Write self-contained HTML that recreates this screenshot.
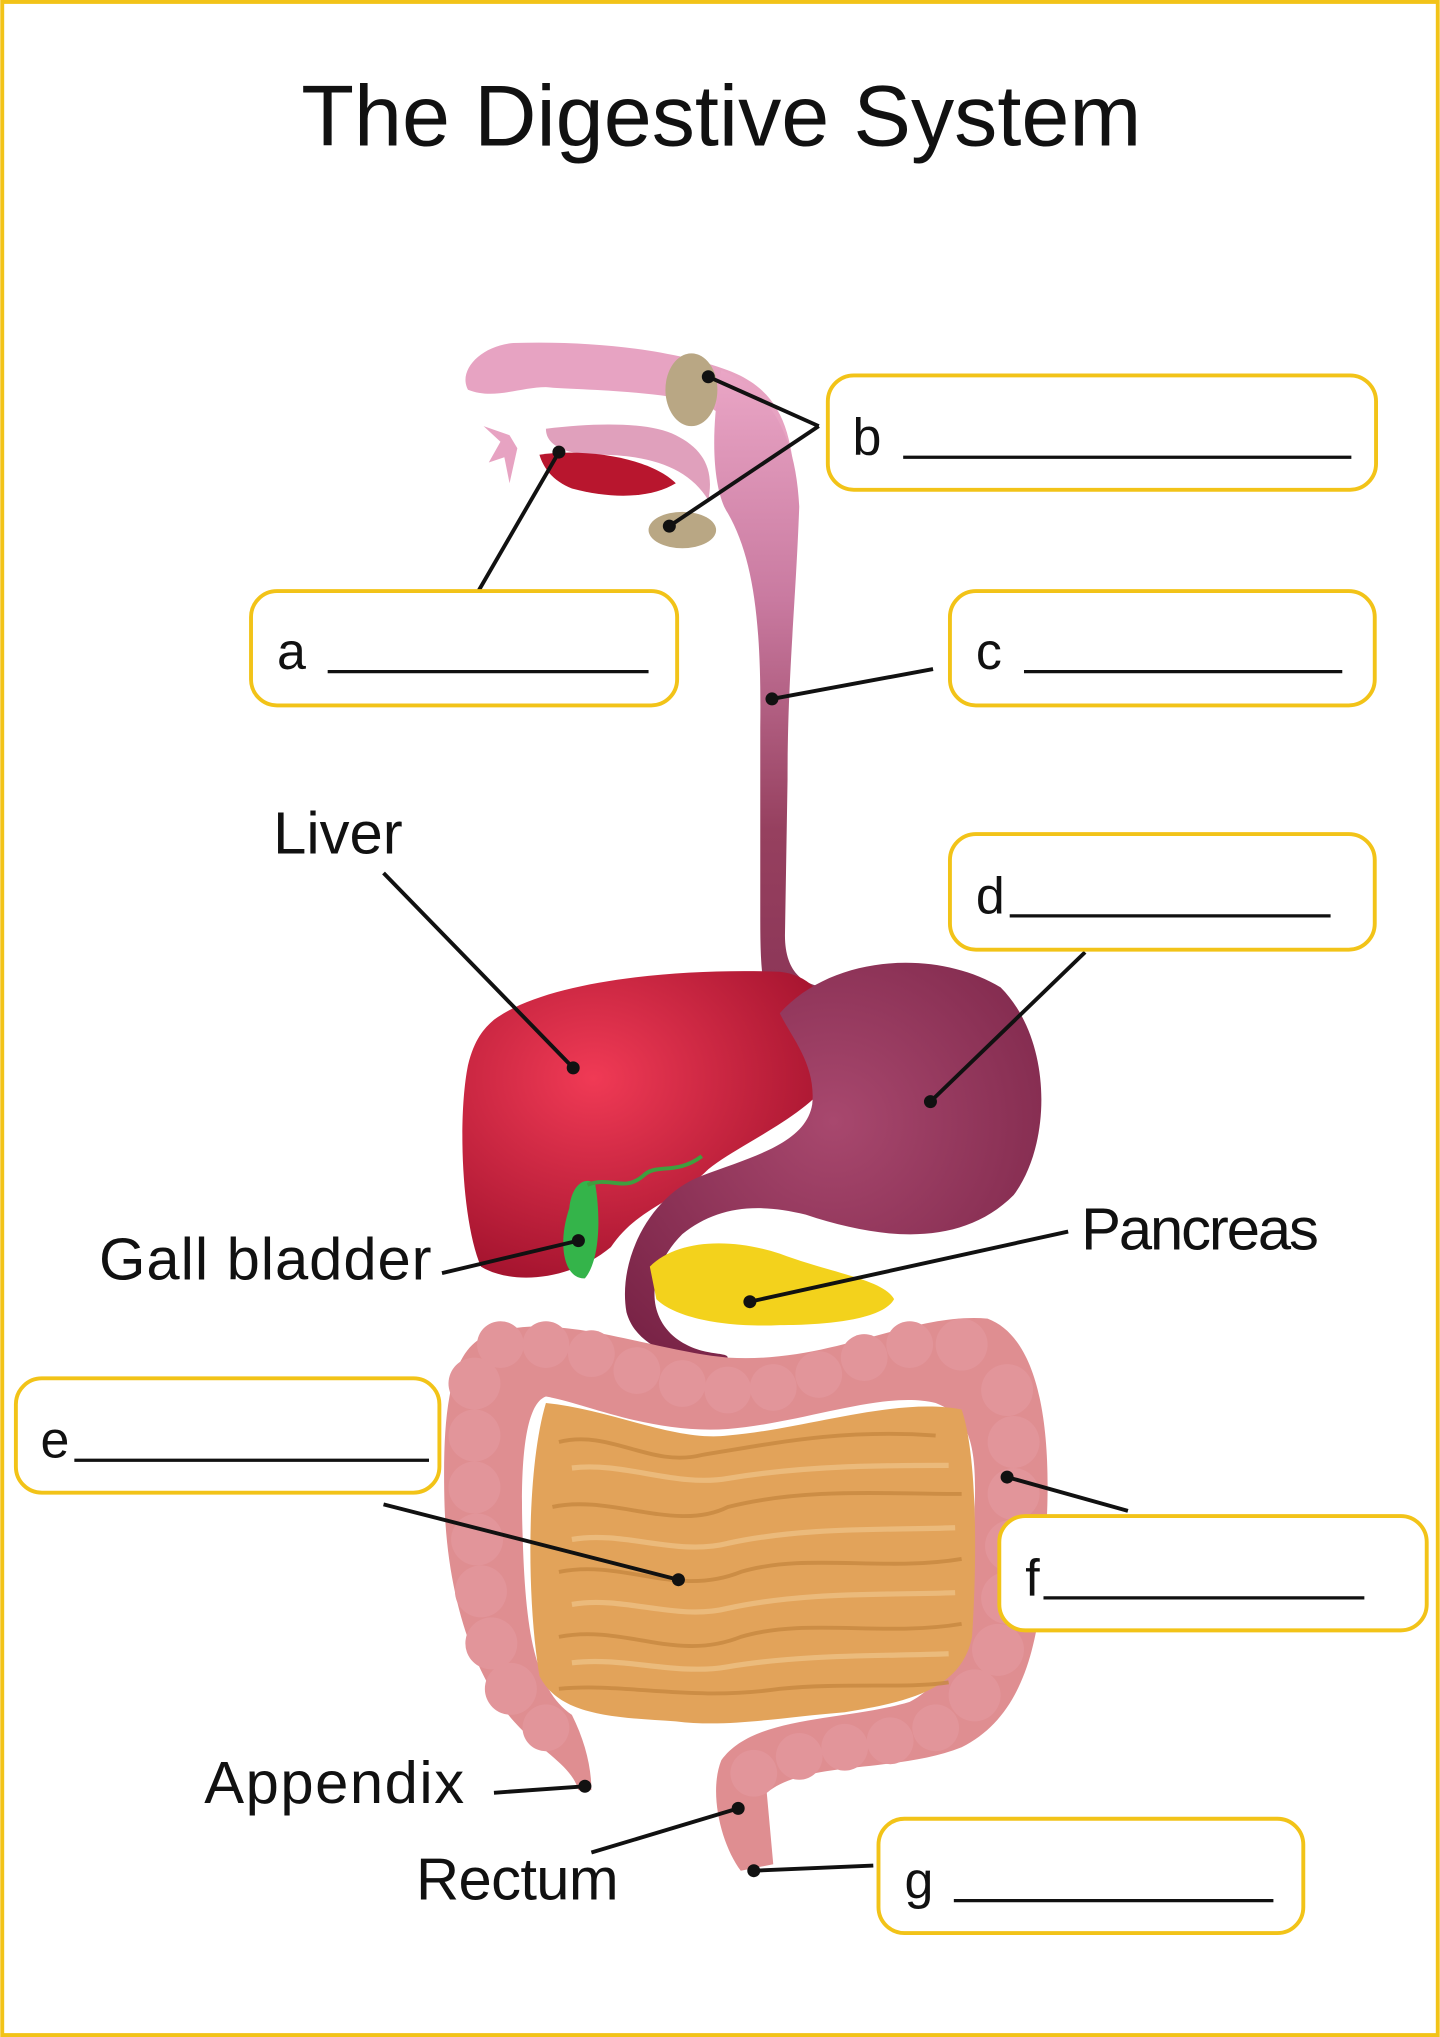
<!DOCTYPE html>
<html><head><meta charset="utf-8"><style>
html,body{margin:0;padding:0;background:#fff}
svg{display:block}
text{font-family:"Liberation Sans",sans-serif;fill:#111}
</style></head><body>
<svg width="1440" height="2037" viewBox="0 0 1108 1568" xmlns="http://www.w3.org/2000/svg">
<defs>
<linearGradient id="eso" x1="0" y1="0" x2="0" y2="1">
<stop offset="0" stop-color="#eaa6c6"/><stop offset="0.35" stop-color="#c97aa0"/><stop offset="0.7" stop-color="#96405f"/><stop offset="1" stop-color="#8a3456"/></linearGradient>
<radialGradient id="liv" cx="0.35" cy="0.35" r="0.7"><stop offset="0" stop-color="#f03a55"/><stop offset="1" stop-color="#a3132e"/></radialGradient>
<radialGradient id="sto" cx="0.5" cy="0.4" r="0.7"><stop offset="0" stop-color="#a8486e"/><stop offset="1" stop-color="#7a2447"/></radialGradient>
</defs>
<rect x="1.5" y="1.5" width="1105" height="1565" fill="#fff" stroke="#f2c318" stroke-width="3"/>
<text x="555" y="112" font-size="66.5" text-anchor="middle">The Digestive System</text>

<path d="M360,300 C352,285 370,266 395,264 C460,262 520,270 560,285 C600,300 610,330 612,380 L608,420 C600,380 580,330 540,310 C500,300 440,300 420,298 C400,298 380,308 360,300Z" fill="#e7a3c2"/>
<path d="M420,330 C460,325 500,325 520,335 C540,345 550,360 545,385 C530,360 500,350 460,350 C440,350 420,345 420,330Z" fill="#e0a0bc"/>
<path d="M372,328 L385,340 L376,356 L388,352 L392,372 L398,345 L392,335Z" fill="#e7a3c2"/>
<path d="M415,350 C450,345 500,352 520,372 C500,384 470,384 440,376 C425,370 418,360 415,350Z" fill="#b8162e"/>
<path d="M555,285 C590,300 612,330 615,390 C612,470 606,520 606,600 L604,720 C604,750 620,760 640,760 L600,790 C585,770 585,740 585,700 L585,560 C586,480 580,430 560,395 C550,380 545,340 555,285Z" fill="url(#eso)"/>
<ellipse cx="532" cy="300" rx="20" ry="28" fill="#b9a784"/>
<ellipse cx="525" cy="408" rx="26" ry="14" fill="#b9a784"/>
<path d="M380,785 C420,755 520,745 600,748 C640,752 650,800 640,830 C620,860 570,880 545,900 C520,925 490,930 470,960 C440,985 395,990 370,975 C355,940 352,860 360,820 C365,800 372,792 380,785Z" fill="url(#liv)"/>
<path d="M600,780 C640,735 720,730 770,760 C810,800 810,880 780,920 C740,960 680,955 620,935 C580,925 550,930 525,950 C500,975 495,1010 520,1030 C540,1045 560,1040 560,1045 C530,1050 490,1040 482,1010 C475,970 500,920 540,905 C580,890 620,880 625,850 C628,820 610,800 600,780Z" fill="url(#sto)"/>
<path d="M438,930 C440,910 452,905 458,912 C462,935 462,970 450,984 C435,985 428,960 438,930Z" fill="#34b44a"/>
<path d="M452,912 C470,905 480,918 495,905 C505,895 520,905 540,890" stroke="#3f9f3f" stroke-width="3" fill="none"/>
<path d="M500,975 C520,955 560,952 600,965 C640,980 680,985 688,1000 C680,1015 640,1020 600,1020 C560,1022 520,1015 505,1000Z" fill="#f3d21c"/>
<!-- large intestine -->
<path d="M370,1030 C420,1005 500,1040 560,1045 C640,1050 700,1010 760,1015 C800,1030 810,1100 805,1180 C802,1260 790,1320 740,1345 C690,1365 620,1355 590,1380 L595,1435 L570,1440 C555,1420 545,1380 555,1355 C580,1320 650,1325 700,1310 C740,1290 750,1230 750,1160 C752,1110 745,1090 720,1080 C680,1070 620,1095 560,1100 C500,1104 450,1080 420,1075 C405,1080 400,1120 402,1180 C404,1250 410,1300 440,1320 C450,1340 455,1360 455,1378 L445,1378 C440,1360 420,1350 400,1330 C370,1300 345,1240 342,1160 C340,1090 345,1045 370,1030Z" fill="#df8e91"/>
<g fill="#e2959a">
<circle cx="385" cy="1035" r="18"/><circle cx="420" cy="1035" r="18"/><circle cx="455" cy="1042" r="18"/><circle cx="490" cy="1055" r="18"/><circle cx="525" cy="1065" r="18"/><circle cx="560" cy="1070" r="18"/><circle cx="595" cy="1068" r="18"/><circle cx="630" cy="1058" r="18"/><circle cx="665" cy="1045" r="18"/><circle cx="700" cy="1035" r="18"/><circle cx="740" cy="1035" r="20"/>
<circle cx="775" cy="1070" r="20"/><circle cx="780" cy="1110" r="20"/><circle cx="780" cy="1150" r="20"/><circle cx="778" cy="1190" r="20"/><circle cx="775" cy="1230" r="20"/><circle cx="768" cy="1270" r="20"/><circle cx="750" cy="1305" r="20"/><circle cx="720" cy="1330" r="18"/><circle cx="685" cy="1340" r="18"/><circle cx="650" cy="1345" r="18"/><circle cx="615" cy="1352" r="18"/><circle cx="580" cy="1365" r="18"/>
<circle cx="365" cy="1065" r="20"/><circle cx="365" cy="1105" r="20"/><circle cx="365" cy="1145" r="20"/><circle cx="367" cy="1185" r="20"/><circle cx="370" cy="1225" r="20"/><circle cx="378" cy="1265" r="20"/><circle cx="393" cy="1300" r="20"/><circle cx="420" cy="1330" r="18"/>
</g>
<!-- small intestine -->
<path d="M420,1080 C470,1085 520,1110 560,1105 C620,1100 690,1075 740,1085 C752,1120 752,1200 748,1260 C740,1300 700,1310 650,1318 C600,1322 560,1330 520,1325 C470,1322 430,1320 415,1290 C405,1230 405,1130 420,1080Z" fill="#e2a35a"/>
<g stroke="#c78840" stroke-width="3" fill="none" opacity="0.8">
<path d="M430,1110 C470,1100 500,1130 540,1120 C600,1110 650,1100 720,1105"/>
<path d="M425,1160 C470,1150 520,1180 560,1160 C620,1145 680,1150 740,1150"/>
<path d="M430,1210 C480,1200 520,1230 570,1210 C620,1195 680,1210 740,1200"/>
<path d="M430,1260 C480,1250 520,1280 570,1260 C620,1245 680,1260 740,1250"/>
<path d="M430,1300 C480,1295 530,1310 600,1300 C650,1295 700,1300 730,1295"/>
</g>
<g stroke="#f0c48a" stroke-width="4" fill="none" opacity="0.7">
<path d="M440,1130 C480,1125 520,1145 560,1138 C620,1128 680,1128 730,1128"/>
<path d="M440,1185 C480,1178 520,1198 560,1188 C620,1175 680,1178 735,1176"/>
<path d="M440,1235 C480,1228 520,1248 560,1238 C620,1225 680,1228 735,1226"/>
<path d="M440,1280 C480,1275 520,1290 560,1283 C620,1273 680,1275 730,1273"/>
</g>

<g stroke="#111" stroke-width="3" fill="none">
<line x1="545" y1="290" x2="630" y2="328"/><line x1="515" y1="405" x2="630" y2="328"/>
<line x1="430" y1="348" x2="368" y2="455"/>
<line x1="594" y1="538" x2="718" y2="515"/>
<line x1="295" y1="672" x2="441" y2="822"/>
<line x1="716" y1="848" x2="835" y2="733"/>
<line x1="340" y1="980" x2="445" y2="955"/>
<line x1="577" y1="1002" x2="822" y2="948"/>
<line x1="295" y1="1158" x2="522" y2="1216"/>
<line x1="775" y1="1137" x2="868" y2="1163"/>
<line x1="380" y1="1380" x2="450" y2="1375"/>
<line x1="455" y1="1426" x2="568" y2="1392"/>
<line x1="580" y1="1440" x2="672" y2="1436"/>
</g>
<g fill="#111">
<circle cx="545" cy="290" r="5"/><circle cx="515" cy="405" r="5"/><circle cx="430" cy="348" r="5"/>
<circle cx="594" cy="538" r="5"/><circle cx="441" cy="822" r="5"/><circle cx="716" cy="848" r="5"/>
<circle cx="445" cy="955" r="5"/><circle cx="577" cy="1002" r="5"/><circle cx="522" cy="1216" r="5"/>
<circle cx="775" cy="1137" r="5"/><circle cx="450" cy="1375" r="5"/><circle cx="568" cy="1392" r="5"/>
<circle cx="580" cy="1440" r="5"/>
</g>

<g fill="#fff" stroke="#f2c318" stroke-width="3">
<rect x="637" y="289" width="422" height="88" rx="20"/>
<rect x="193" y="455" width="328" height="88" rx="20"/>
<rect x="731" y="455" width="327" height="88" rx="20"/>
<rect x="731" y="642" width="327" height="89" rx="20"/>
<rect x="12" y="1061" width="326" height="88" rx="20"/>
<rect x="769" y="1167" width="329" height="88" rx="20"/>
<rect x="676" y="1400" width="327" height="88" rx="20"/>
</g>
<g font-size="40">
<text x="656" y="350">b</text>
<text x="213" y="515">a</text>
<text x="751" y="515">c</text>
<text x="751" y="703">d</text>
<text x="31" y="1122">e</text>
<text x="789" y="1228">f</text>
<text x="696" y="1461">g</text>
</g>
<g stroke="#111" stroke-width="2.5">
<line x1="695" y1="352" x2="1040" y2="352"/>
<line x1="252" y1="517" x2="499" y2="517"/>
<line x1="788" y1="517" x2="1033" y2="517"/>
<line x1="777" y1="705" x2="1024" y2="705"/>
<line x1="57" y1="1124" x2="330" y2="1124"/>
<line x1="803" y1="1230" x2="1050" y2="1230"/>
<line x1="734" y1="1463" x2="980" y2="1463"/>
</g>
<g font-size="46">
<text x="210" y="657">Liver</text>
<text x="76" y="985" textLength="256">Gall bladder</text>
<text x="832" y="962" textLength="183">Pancreas</text>
<text x="157" y="1388" textLength="200">Appendix</text>
<text x="320" y="1462" textLength="156">Rectum</text>
</g>
</svg>
</body></html>
